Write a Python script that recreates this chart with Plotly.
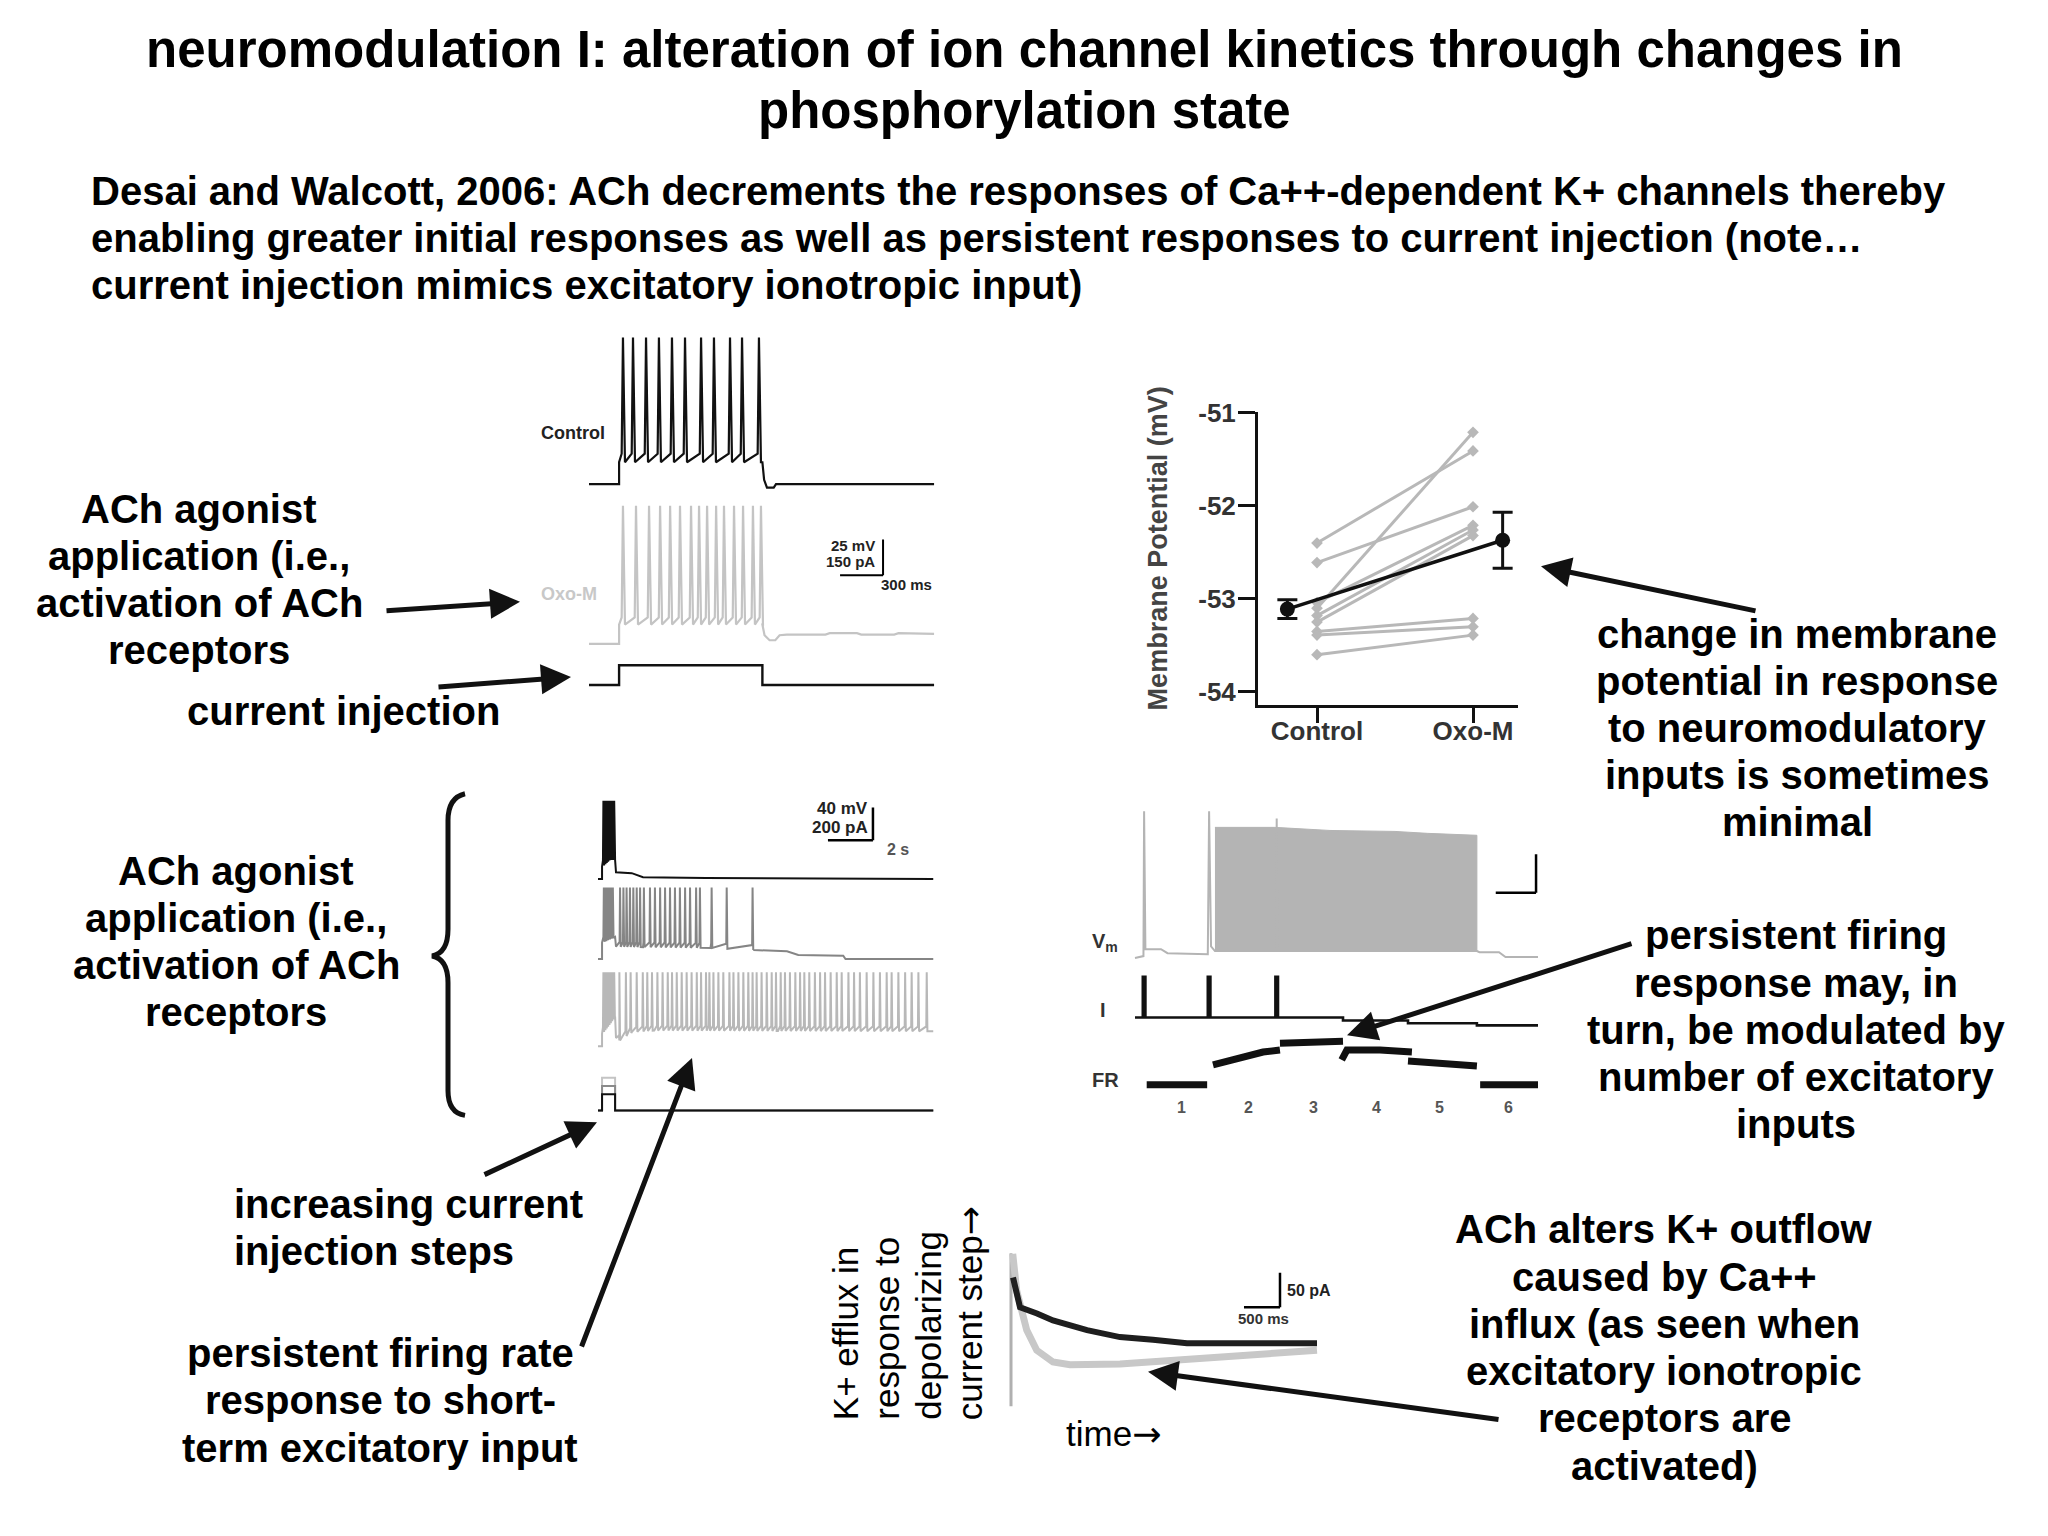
import numpy as np
import plotly.graph_objects as go

W, H = 2048, 1536
FONT = "Liberation Sans, Arial, Helvetica, sans-serif"

# ====================== DATA ======================
# Panel A (top-left): 1 s current step, Control vs Oxo-M  (time ms, Vm mV, I pA)
a_end_ms = 2408
a_step_ms = [210, 1210]
a_step_pA = 83
a_ctrl_spikes_ms = [237, 307, 398, 488, 579, 670, 782, 872, 984, 1068, 1186]
a_ctrl_levels_mV = [-65, -49.7, 37.8]          # rest, plateau, spike peak
a_ctrl_post_ms = [1210, 1222, 1242, 1289, 1305, 2408]
a_ctrl_post_mV = [-49.7, -62, -67.5, -67.5, -65, -65]
a_oxo_spikes_ms = [237, 328, 419, 496, 566, 635, 712, 768, 824, 887, 942, 1012, 1075, 1144, 1200]
a_oxo_levels_mV = [-66, -52.5, 30.8]
a_oxo_post_ms = [1210, 1225, 1260, 1300, 1330, 1380, 1650, 1680, 1870, 1900, 2130, 2160, 2408]
a_oxo_post_mV = [-52.5, -60, -63.5, -63.5, -60, -59.5, -59.5, -58.5, -58.5, -59.5, -59.5, -58.5, -59]

# Panel M (top-right): membrane potential, Control vs Oxo-M
mp_conditions = ["Control", "Oxo-M"]
mp_ticks_mV = [-54, -53, -52, -51]
mp_control_mV = [-52.40, -53.10, -52.61, -53.04, -53.18, -53.25, -53.35, -53.39, -53.60]
mp_oxom_mV = [-51.41, -51.21, -52.01, -52.21, -52.26, -52.32, -53.21, -53.30, -53.39]
mp_mean_mV = [-53.11, -52.37]
mp_sem_mV = [0.10, 0.30]

# Panel B (bottom-left): increasing current steps, persistent firing (time s, Vm mV)
b_end_s = 14.9
b_stim_s = [0.18, 0.76]
b_steps_pA = [100, 150, 200]
b1_base_s = [0, 0.18, 0.18, 0.5, 0.76, 0.80, 1.5, 2.0, 4.8, 14.9]
b1_base_mV = [-65, -65, -50, -42, -42, -57, -58, -63, -64, -65]
b1_spikes_s = [0.24, 0.30, 0.36, 0.42, 0.48, 0.54, 0.60, 0.66, 0.72]
b1_peak_mV = 30
b2_base_s = [0, 0.18, 0.18, 0.76, 0.80, 2.0, 5.0, 6.9, 8.4, 8.9, 10.9, 11.0, 14.9]
b2_base_mV = [-65, -65, -45, -38, -50, -50.5, -51.5, -54, -55.5, -60, -61, -65, -65]
b2_spikes_s = [0.26, 0.34, 0.42, 0.50, 0.58, 0.66, 0.98, 1.13, 1.27, 1.42, 1.57, 1.72, 1.87,
               2.04, 2.31, 2.53, 2.76, 2.98, 3.20, 3.42, 3.64, 3.87, 4.09, 4.36, 4.53, 5.05,
               5.72, 6.87]
b2_peak_mV = 22
b3_base_s = [0, 0.18, 0.18, 0.76, 0.80, 0.95, 1.5, 2.5, 8.0, 14.9]
b3_base_mV = [-65, -65, -50, -29, -55, -58, -48, -46, -46.5, -47]
b3_spikes_s = [0.24, 0.30, 0.36, 0.42, 0.48, 0.54, 0.60, 0.66, 0.72,
               0.95, 1.24, 1.45, 1.72, 1.99, 2.19, 2.40, 2.64, 2.87, 3.10, 3.29, 3.50, 3.72,
               3.94, 4.16, 4.39, 4.58, 4.80, 4.95, 5.13, 5.35, 5.57, 5.84, 6.02, 6.24, 6.46,
               6.68, 6.87, 7.05, 7.27, 7.50, 7.72, 7.91, 8.12, 8.31, 8.53, 8.77, 8.98, 9.17,
               9.39, 9.64, 9.87, 10.09, 10.34, 10.61, 10.83, 11.13, 11.38, 11.64, 11.94,
               12.24, 12.53, 12.83, 13.05, 13.35, 13.65, 13.94, 14.24, 14.61]
b3_peak_mV = 25

# Panel C (right): persistent firing vs number of inputs (time s)
c_end_s = 62
c_vm_s = [0, 1.3, 1.4, 1.6, 4.0, 5.0, 11.2, 11.4, 11.7, 12.3, 21.7, 21.8, 21.9, 52.6, 53.0, 56.0, 57.0, 62.0]
c_vm_mV = [-61, -60, 15, -56.4, -56.4, -58.5, -59, 15, -55, -57.4, -57.4, 11.3, -57.4, -57.4, -58, -58, -60.5, -60.5]
c_block_s = [12.3, 21.5, 30, 40, 45, 52.6]
c_block_top_mV = [6.7, 6.7, 5.1, 4.6, 3.6, 2.6]
c_block_bottom_mV = -57.4
c_pulse_s = [1.4, 11.4, 21.8]
c_pulse_pA = 200
c_step_s = [32.0, 42.0, 52.6]
c_step_pA = [-15, -29, -39]
c_fr_s = [[1.8, 11.1], [12.0, 14.6, 17.2, 19.7, 22.3], [22.3, 27.0, 32.0],
          [31.8, 32.6, 37.7, 42.6], [42.0, 48.0, 52.6], [53.1, 62.0]]
c_fr_hz = [[0, 0], [2.0, 2.4, 2.9, 3.3, 3.5], [4.2, 4.3, 4.4],
           [2.5, 3.5, 3.5, 3.3], [2.4, 2.2, 1.9], [0, 0]]
c_epoch_labels = ["1", "2", "3", "4", "5", "6"]
c_epoch_center_s = [7.2, 17.4, 27.4, 37.2, 46.9, 57.4]

# Panel D (bottom): K+ current, control (black) vs ACh (gray)  (time ms, pA)
d_ctrl_ms = [28, 125, 361, 583, 1056, 1514, 1972, 2444, 3361, 4250]
d_ctrl_pA = [186, 143, 134, 124, 110, 100, 96, 91, 91, 91]
d_ach_ms = [24, 79, 218, 357, 583, 819, 1514, 1972, 2903, 4250]
d_ach_pA = [220, 167, 110, 81, 64, 60, 61, 64, 71, 81]
d_transient_pA = [0, 221]

# ====================== FIGURE ======================
fig = go.Figure()
_n = [0]
ARROW = '<span style="font-family:DejaVu Sans">→</span>'


def make_axes(box, xmap, ymap):
    """box=(left,right,top,bottom) px; xmap/ymap=(anchor_px, anchor_value, px_per_unit)."""
    l, r, t, b = box
    _n[0] += 1
    s = "" if _n[0] == 1 else str(_n[0])
    xr = [xmap[1] - (xmap[0] - l) / xmap[2], xmap[1] + (r - xmap[0]) / xmap[2]]
    yr = [ymap[1] - (b - ymap[0]) / ymap[2], ymap[1] + (ymap[0] - t) / ymap[2]]
    base = dict(visible=False, showgrid=False, zeroline=False, fixedrange=True)
    fig.update_layout(**{
        "xaxis" + s: dict(domain=[l / W, r / W], range=xr, anchor="y" + s, **base),
        "yaxis" + s: dict(domain=[1 - b / H, 1 - t / H], range=yr, anchor="x" + s, **base),
    })
    return "x" + s, "y" + s, "xaxis" + s, "yaxis" + s


def line(xref, yref, xs, ys, color, width, fill=None, fillcolor=None):
    fig.add_trace(go.Scatter(x=xs, y=ys, xaxis=xref, yaxis=yref, mode="lines",
                             line=dict(color=color, width=width), fill=fill,
                             fillcolor=fillcolor, showlegend=False, hoverinfo="skip"))


def scalebar(xref, yref, x0, y0, dx, dy, width=2):
    fig.add_shape(type="line", xref=xref, yref=yref, x0=x0, x1=x0, y0=y0, y1=y0 + dy,
                  line=dict(color="black", width=width))
    fig.add_shape(type="line", xref=xref, yref=yref, x0=x0 - dx, x1=x0, y0=y0, y1=y0,
                  line=dict(color="black", width=width))


def txt(text, x, y, size, anchor="center", bold=True, color="black", angle=0, yanchor="middle"):
    fig.add_annotation(x=x / W, y=1 - y / H, xref="paper", yref="paper", text=text,
                       showarrow=False, xanchor=anchor, yanchor=yanchor, textangle=angle,
                       font=dict(family=FONT, size=size, color=color,
                                 weight="bold" if bold else "normal"))


def block(lines, x, y0, dy, size, anchor="center", bold=True):
    for i, ln in enumerate(lines):
        txt(ln, x, y0 + i * dy, size, anchor=anchor, bold=bold)


def step_train(levels, spikes, on, post_t, post_v, thr, w_up, w_dn):
    rest, plateau, peak = levels
    xs = [0, on, on]
    ys = [rest, rest, plateau]
    for s in spikes:
        xs += [s - w_up, s, s + w_dn]
        ys += [plateau + thr, peak, plateau]
    return xs + list(post_t), ys + list(post_v)


def base_train(base_t, base_v, spikes, peak, thr, w_up, w_dn):
    pts = list(zip(base_t, base_v))
    for s in spikes:
        b = float(np.interp(s, base_t, base_v))
        pts += [(s - w_up, b + thr), (s, peak), (s + w_dn, b)]
    pts.sort(key=lambda p: p[0])
    return [p[0] for p in pts], [p[1] for p in pts]


# ---------- Panel A ----------
tA = (589, 0, 0.1433)
xa1, ya1, _, _ = make_axes((580, 945, 315, 495), tA, (475, -65, 1.44))
xa2, ya2, _, _ = make_axes((580, 945, 485, 645), tA, (635, -65, 1.44))
xa3, ya3, _, _ = make_axes((580, 945, 648, 692), tA, (678, 0, 0.24))

xs, ys = step_train(a_oxo_levels_mV, a_oxo_spikes_ms, a_step_ms[0], a_oxo_post_ms + [a_end_ms],
                    a_oxo_post_mV + [a_oxo_post_mV[-1]], 5, 9, 14)
line(xa2, ya2, xs, ys, "#c4c4c4", 2.2)
xs, ys = step_train(a_ctrl_levels_mV, a_ctrl_spikes_ms, a_step_ms[0], a_ctrl_post_ms + [a_end_ms],
                    a_ctrl_post_mV + [a_ctrl_post_mV[-1]], 6, 9, 14)
line(xa1, ya1, xs, ys, "#111111", 2.2)
line(xa3, ya3, [0, a_step_ms[0], a_step_ms[0], a_step_ms[1], a_step_ms[1], a_end_ms],
     [0, 0, a_step_pA, a_step_pA, 0, 0], "#111111", 2.4)
scalebar(xa2, ya2, 2052, -17.8, 300, 25)
txt("Control", 607, 423, 18, anchor="right", color="#222222")
txt("Oxo-M", 599, 586, 18, anchor="right", color="#c8c8c8")
txt("25 mV", 877, 537, 15, anchor="right", color="#222222")
txt("150 pA", 877, 553, 15, anchor="right", color="#222222")
txt("300 ms", 906, 576, 15, color="#222222")

# ---------- Panel M (membrane potential) ----------
xm, ym, xmn, ymn = make_axes((1258, 1518, 402, 698), (1317, 0, 156), (497, -52, 94))
for c, o in zip(mp_control_mV, mp_oxom_mV):
    fig.add_trace(go.Scatter(x=[0, 1], y=[c, o], xaxis=xm, yaxis=ym, mode="lines+markers",
                             line=dict(color="#b8b8b8", width=3),
                             marker=dict(symbol="diamond", size=9, color="#b8b8b8"),
                             showlegend=False, hoverinfo="skip", cliponaxis=False))
fig.add_trace(go.Scatter(x=[-0.19, 1.19], y=mp_mean_mV, xaxis=xm, yaxis=ym, mode="lines+markers",
                         line=dict(color="#111111", width=3.5),
                         marker=dict(symbol="circle", size=15, color="#111111"),
                         error_y=dict(type="data", array=mp_sem_mV, color="#111111",
                                      thickness=3, width=10),
                         showlegend=False, hoverinfo="skip", cliponaxis=False))
axfont = dict(family=FONT, size=26, color="#333333", weight="bold")
fig.update_layout(**{
    xmn: dict(visible=True, showline=True, linecolor="#111111", linewidth=3, ticks="outside",
              ticklen=15, tickwidth=3, tickcolor="#111111", tickvals=[0, 1],
              ticktext=mp_conditions, tickfont=axfont, showgrid=False, zeroline=False,
              ticklabelstandoff=-14),
    ymn: dict(visible=True, showline=True, linecolor="#111111", linewidth=3, ticks="outside",
              ticklen=17, tickwidth=3, tickcolor="#111111", tickvals=mp_ticks_mV,
              ticktext=[str(v) for v in mp_ticks_mV], tickfont=axfont, showgrid=False,
              zeroline=False, ticklabelstandoff=-3),
})
txt("Membrane Potential (mV)", 1158, 540, 27, angle=-90, color="#444444")

# ---------- Panel B ----------
tB = (598, 0, 22.5)
xb1, yb1, _, _ = make_axes((590, 940, 785, 880), tB, (874, -65, 0.83))
xb2, yb2, _, _ = make_axes((590, 940, 875, 962), tB, (955, -65, 0.83))
xb3, yb3, _, _ = make_axes((590, 940, 960, 1050), tB, (1043, -65, 0.83))
xb4, yb4, _, _ = make_axes((590, 940, 1065, 1115), tB, (1108, 0, 0.165))

xs, ys = base_train(b1_base_s, b1_base_mV, b1_spikes_s, b1_peak_mV, 6, 0.02, 0.03)
line(xb1, yb1, xs, ys, "#111111", 2)
xs, ys = base_train(b2_base_s, b2_base_mV, b2_spikes_s, b2_peak_mV, 6, 0.02, 0.03)
line(xb2, yb2, xs, ys, "#858585", 2)
xs, ys = base_train(b3_base_s, b3_base_mV, b3_spikes_s, b3_peak_mV, 6, 0.02, 0.03)
line(xb3, yb3, xs, ys, "#b8b8b8", 2)
for amp, col in zip(b_steps_pA[::-1], ["#c4c4c4", "#8a8a8a", "#111111"]):
    line(xb4, yb4, [0, b_stim_s[0], b_stim_s[0], b_stim_s[1], b_stim_s[1], b_end_s],
         [0, 0, amp, amp, 0, 0], col, 2)
scalebar(xb1, yb1, 12.22, -18, 2, 40, width=2.5)
txt("40 mV", 870, 803, 17, anchor="right", color="#222222")
txt("200 pA", 870, 822, 17, anchor="right", color="#222222")
txt("2 s", 898, 844, 16, color="#555555")

# ---------- Panel C ----------
tC = (1135, 0, 6.5)
xc1, yc1, _, _ = make_axes((1125, 1545, 795, 962), tC, (952, -60, 1.95))
xc2, yc2, _, _ = make_axes((1125, 1545, 965, 1027), tC, (1014, 0, 0.205))
xc3, yc3, _, _ = make_axes((1125, 1545, 1028, 1094), tC, (1082, 0, 10))

line(xc1, yc1, c_block_s + c_block_s[::-1],
     c_block_top_mV + [c_block_bottom_mV] * len(c_block_s), "#b4b4b4", 1,
     fill="toself", fillcolor="#b4b4b4")
line(xc1, yc1, c_vm_s, c_vm_mV, "#b4b4b4", 2)
ix, iy = [0], [0]
for p in c_pulse_s:
    ix += [p - 0.2, p - 0.2, p + 0.2, p + 0.2]
    iy += [0, c_pulse_pA, c_pulse_pA, 0]
prev = 0
for s, v in zip(c_step_s, c_step_pA):
    ix += [s, s]
    iy += [prev, v]
    prev = v
ix.append(c_end_s)
iy.append(prev)
line(xc2, yc2, ix, iy, "#111111", 2.6)
for fs, fh in zip(c_fr_s, c_fr_hz):
    line(xc3, yc3, fs, fh, "#111111", 7)
for lab, cx in zip(c_epoch_labels, c_epoch_center_s):
    fig.add_annotation(x=cx, y=1 - 1116 / H, xref=xc3, yref="paper", text=lab, showarrow=False,
                       font=dict(family=FONT, size=16, color="#555555", weight="bold"))
scalebar(xc1, yc1, 61.7, -27.2, 6.2, 20, width=2.5)
txt("V<sub>m</sub>", 1105, 938, 20, color="#333333")
txt("I", 1103, 1006, 20, color="#333333")
txt("FR", 1105, 1077, 20, color="#333333")

# ---------- Panel D ----------
xd, yd, _, _ = make_axes((1000, 1330, 1245, 1415), (1011, 0, 0.072), (1407, 0, 0.7))
line(xd, yd, [0, 0], d_transient_pA, "#b0b0b0", 3)
line(xd, yd, d_ach_ms, d_ach_pA, "#c8c8c8", 7)
line(xd, yd, d_ctrl_ms, d_ctrl_pA, "#1e1e1e", 6)
scalebar(xd, yd, 3736, 143, 500, 50, width=2.5)
txt("50 pA", 1285, 1290, 16, anchor="left", color="#222222")
txt("500 ms", 1263, 1318, 15, color="#333333")

# ---------- Text ----------
block(["neuromodulation I: alteration of ion channel kinetics through changes in",
       "phosphorylation state"], 1024, 36, 61.5, 51)
block(["Desai and Walcott, 2006: ACh decrements the responses of Ca++-dependent K+ channels thereby",
       "enabling greater initial responses as well as persistent responses to current injection (note…",
       "current injection mimics excitatory ionotropic input)"], 89, 179, 47.2, 40, anchor="left")
block(["ACh agonist", "application (i.e.,", "activation of ACh", "receptors"], 199, 500, 47.5, 40)
block(["current injection"], 343, 704, 47.5, 40)
block(["ACh agonist", "application (i.e.,", "activation of ACh", "receptors"], 236, 866, 47.5, 40)
block(["increasing current", "injection steps"], 232, 1203, 47.5, 40, anchor="left")
block(["persistent firing rate", "response to short-", "term excitatory input"], 380, 1353, 47.8, 40)
block(["change in membrane", "potential in response", "to neuromodulatory",
       "inputs is sometimes", "minimal"], 1797, 627, 47.4, 40)
block(["persistent firing", "response may, in", "turn, be modulated by",
       "number of excitatory", "inputs"], 1796, 931, 47.7, 40)
block(["ACh alters K+ outflow", "caused by Ca++", "influx (as seen when",
       "excitatory ionotropic", "receptors are", "activated)"], 1664, 1228, 47.8, 40)
for ln, cx in zip(["K+ efflux in", "response to", "depolarizing", "current step" + ARROW],
                  [845, 887, 929, 970]):
    txt(ln, cx, 1423, 35, bold=False, angle=-90, yanchor="bottom")
txt("time" + ARROW, 1113, 1435, 35, bold=False)

# ---------- Arrows ----------
arrows = [((385, 603), (520, 594)), ((437, 680), (571, 670)), ((1757, 603), (1541, 558)),
          ((1633, 940), (1347, 1032)), ((483, 1173), (597, 1120)), ((581, 1345), (692, 1055)),
          ((1500, 1420), (1148, 1372))]
for (tx, ty), (hx, hy) in arrows:
    fig.add_annotation(x=hx / W, y=1 - hy / H, xref="paper", yref="paper", ax=tx - hx, ay=ty - hy,
                       axref="pixel", ayref="pixel", text="", showarrow=True, arrowhead=2,
                       arrowsize=1.2, arrowwidth=5, arrowcolor="#111111", standoff=0)

# ---------- Brace ----------
bp = [("M", 465, 788), ("Q", 448, 792), ("", 448, 815), ("L", 448, 925), ("Q", 448, 949),
      ("", 432, 952), ("Q", 448, 955), ("", 448, 979), ("L", 448, 1088), ("Q", 448, 1110),
      ("", 465, 1113)]
path = " ".join(f"{c} {x / W:.5f},{1 - y / H:.5f}" if c else f"{x / W:.5f},{1 - y / H:.5f}"
                for c, x, y in bp)
fig.add_shape(type="path", xref="paper", yref="paper", path=path,
              line=dict(color="#111111", width=5))

fig.update_layout(width=W, height=H, autosize=False, margin=dict(l=0, r=0, t=0, b=0, pad=0),
                  paper_bgcolor="white", plot_bgcolor="rgba(0,0,0,0)", showlegend=False)

fig.write_html("out.html", config={"displayModeBar": False},
               post_script="document.body.style.margin='0';")
